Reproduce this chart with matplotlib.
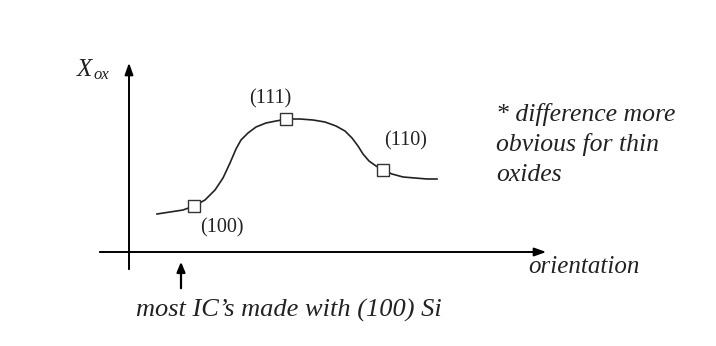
import matplotlib.pyplot as plt

# Oxide thickness vs crystal orientation (sketch, pixel-like coordinates)
curve_x = [157, 170, 183, 194, 205, 215, 223, 230, 236, 241, 248, 256, 266, 276, 287,
           300, 313, 325, 336, 345, 352, 358, 363, 369, 376, 383, 392, 403, 415, 427, 437]
curve_y = [214, 212, 210, 206, 200, 190, 178, 163, 149, 140, 133, 127, 123, 121, 119,
           119, 120, 122, 126, 131, 138, 146, 154, 161, 166, 170, 174, 177, 178, 179, 179]

marker_x = [194, 286, 383]
marker_y = [206, 119, 170]
marker_labels = ["(100)", "(111)", "(110)"]
label_x = [222, 270, 406]
label_y = [228, 99, 141]

note_lines = ["* difference more", "obvious for thin", "oxides"]

fig = plt.figure(figsize=(7.16, 3.46), dpi=100)
ax = fig.add_axes([0, 0, 1, 1])
ax.set_xlim(0, 716)
ax.set_ylim(346, 0)
ax.axis("off")

serif = ["Liberation Serif", "DejaVu Serif"]

# axes arrows
ax.annotate("", xy=(129, 60), xytext=(129, 272),
            arrowprops=dict(arrowstyle="-|>,head_length=0.7,head_width=0.25", color="black", lw=1.4))
ax.annotate("", xy=(549, 252), xytext=(97, 252),
            arrowprops=dict(arrowstyle="-|>,head_length=0.7,head_width=0.25", color="black", lw=1.4))

ax.text(77, 70, "X", fontsize=18, style="italic", family=serif, va="center", ha="left",
        color="#222222")
ax.text(94, 75, "ox", fontsize=12, style="italic", family=serif, va="center", ha="left",
        color="#222222")
ax.text(528, 267, "orientation", fontsize=18, style="italic", family=serif,
        va="center", ha="left", color="#222222")

ax.plot(curve_x, curve_y, color="#222222", lw=1.2)
ax.plot(marker_x, marker_y, ls="none", marker="s", ms=9, mfc="white", mec="#333333", mew=1.0)

for lab, lx, ly in zip(marker_labels, label_x, label_y):
    ax.text(lx, ly, lab, fontsize=14.5, family=serif, ha="center", va="center", color="#222222")

for i, line in enumerate(note_lines):
    ax.text(496, 115 + i * 30, line, fontsize=18.5, style="italic", family=serif,
            ha="left", va="center", color="#222222")

# arrow for (100) note
ax.annotate("", xy=(181, 259), xytext=(181, 291),
            arrowprops=dict(arrowstyle="-|>,head_length=0.6,head_width=0.25", color="black", lw=1.6))
ax.text(136, 310, "most IC\u2019s made with (100) Si", fontsize=19, style="italic",
        family=serif, ha="left", va="center", color="#222222")

fig.savefig("out.png", dpi=100)
